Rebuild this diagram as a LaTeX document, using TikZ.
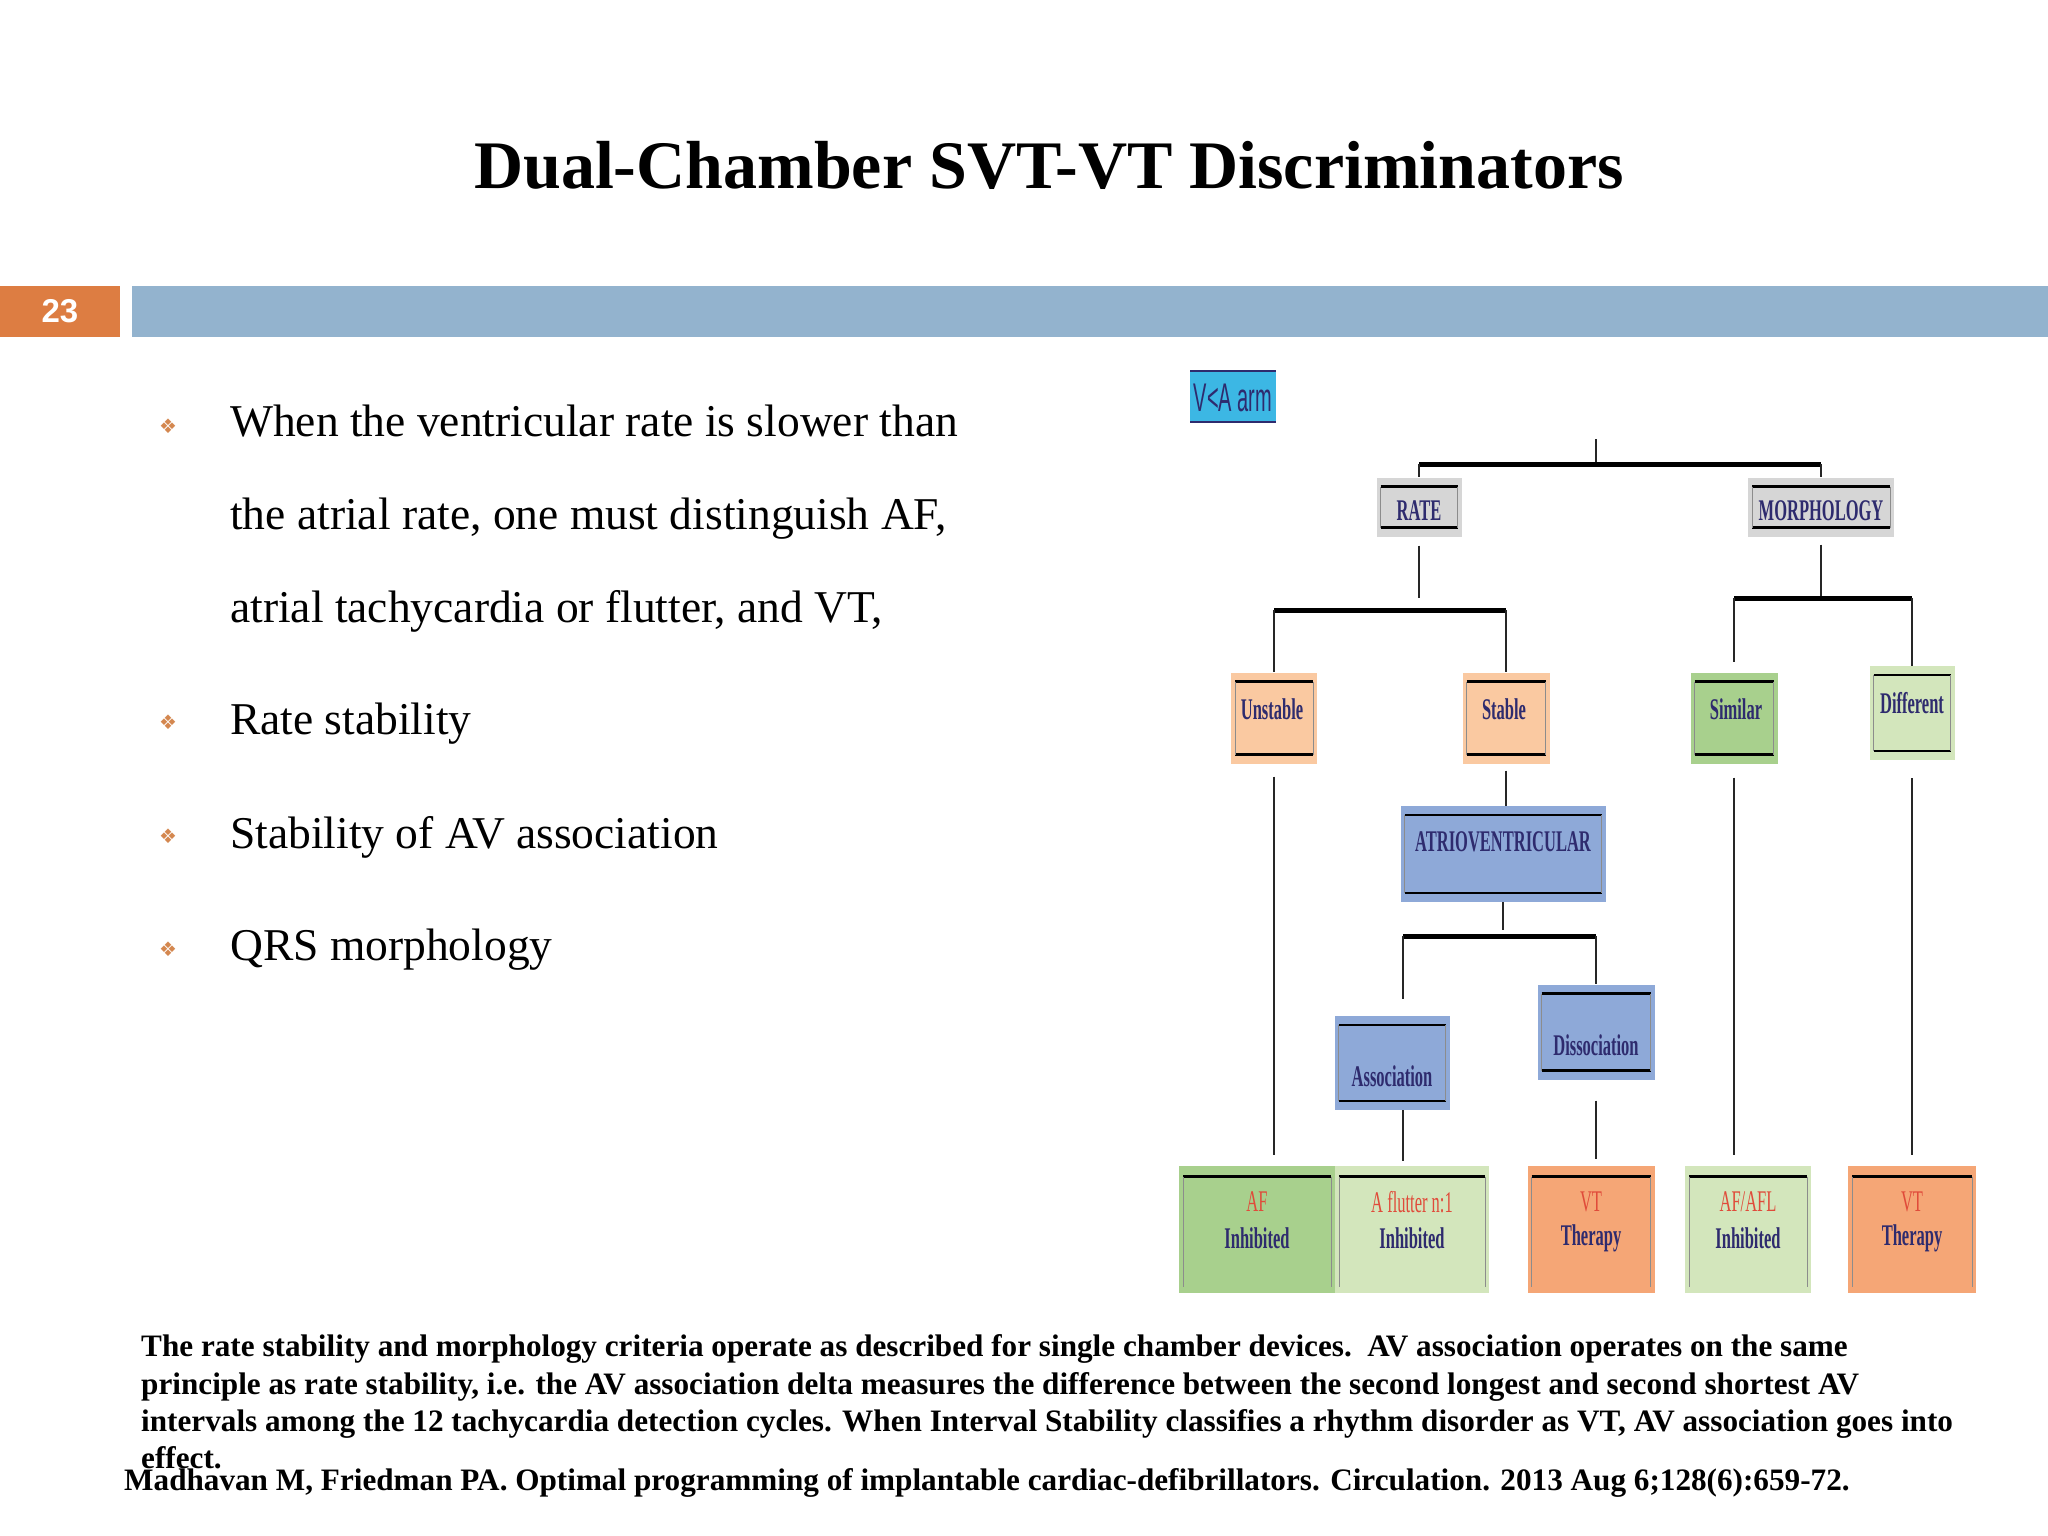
\documentclass[tikz,border=0pt]{standalone}
\usepackage{fontspec}
\setmainfont{Liberation Serif}
\newfontfamily\sansf{Liberation Sans}
\newfontfamily\dejavu{DejaVu Sans}
\newfontfamily\condf[FakeStretch=0.55]{Liberation Serif}
\newfontfamily\condsans[FakeStretch=0.5]{Liberation Sans}
\definecolor{hdrorange}{HTML}{DD7D42}
\definecolor{hdrblue}{HTML}{93B3CE}
\definecolor{bulorange}{HTML}{D4874F}
\definecolor{navyt}{HTML}{2E2B6E}
\definecolor{redt}{HTML}{E04B3A}
\definecolor{gbox}{HTML}{D6D6D6}
\definecolor{peach}{HTML}{FAC9A1}
\definecolor{mgreen}{HTML}{A8D08D}
\definecolor{lgreen}{HTML}{D3E6BC}
\definecolor{obox}{HTML}{F5A676}
\definecolor{bbox}{HTML}{8EA9D8}
\definecolor{cbox}{HTML}{3CB7E4}
\tikzset{
  box/.style={inner sep=0pt, draw=none},
  twolines/.style={path picture={
    \draw[black, line width=2.5pt] ([xshift=4pt,yshift=-9pt]path picture bounding box.north west) -- ([xshift=-4pt,yshift=-9pt]path picture bounding box.north east);
    \draw[black, line width=2.5pt] ([xshift=4pt,yshift=9pt]path picture bounding box.south west) -- ([xshift=-4pt,yshift=9pt]path picture bounding box.south east);
    \draw[black!45, line width=1pt] ([xshift=4pt,yshift=-9pt]path picture bounding box.north west) -- ([xshift=4pt,yshift=9pt]path picture bounding box.south west);
    \draw[black!45, line width=1pt] ([xshift=-4pt,yshift=-9pt]path picture bounding box.north east) -- ([xshift=-4pt,yshift=9pt]path picture bounding box.south east);
  }},
  oneline/.style={path picture={
    \draw[black, line width=2.5pt] ([xshift=4pt,yshift=-11pt]path picture bounding box.north west) -- ([xshift=-4pt,yshift=-11pt]path picture bounding box.north east);
    \draw[black!45, line width=1pt] ([xshift=4pt,yshift=-11pt]path picture bounding box.north west) -- ([xshift=4pt,yshift=6pt]path picture bounding box.south west);
    \draw[black!45, line width=1pt] ([xshift=-4pt,yshift=-11pt]path picture bounding box.north east) -- ([xshift=-4pt,yshift=6pt]path picture bounding box.south east);
  }},
  lbl/.style={inner sep=0pt, text=navyt, font=\condf\bfseries\fontsize{30}{34}\selectfont},
  rlbl/.style={inner sep=0pt, text=redt, font=\condf\fontsize{30}{34}\selectfont},
  stub/.style={draw=black!85, line width=2.5pt},
  bar/.style={draw=black, line width=5pt},
  bullet/.style={inner sep=0pt, text=bulorange, font=\dejavu\fontsize{20}{22}\selectfont},
  btext/.style={inner sep=0pt, anchor=base west, font=\fontsize{45.5}{50}\selectfont},
  ftext/.style={inner sep=0pt, anchor=base west, font=\bfseries\fontsize{31.2}{34}\selectfont},
}
\begin{document}
\begin{tikzpicture}[x=1pt,y=-1pt]
\useasboundingbox (0,0) rectangle (2048,1536);
\fill[white] (0,0) rectangle (2048,1536);

% header
\node[inner sep=0pt, anchor=base, font=\bfseries\fontsize{68}{72}\selectfont] (title) at (1049,188) {Dual-Chamber SVT-VT Discriminators};
\fill[hdrorange] (0,286) rectangle (120,337);
\fill[hdrblue] (132,286) rectangle (2048,337);
\node[inner sep=0pt, text=white, font=\sansf\bfseries\fontsize{33}{36}\selectfont] (num) at (60,311) {23};

% bullets
\node[bullet] (b1) at (168,426) {❖};
\node[bullet] (b2) at (168,722) {❖};
\node[bullet] (b3) at (168,836) {❖};
\node[bullet] (b4) at (168,949) {❖};
\node[btext] (t1a) at (230,436) {When the ventricular rate is slower than};
\node[btext] (t1b) at (230,529) {the atrial rate, one must distinguish AF,};
\node[btext] (t1c) at (230,622) {atrial tachycardia or flutter, and VT,};
\node[btext] (t2) at (230,734) {Rate stability};
\node[btext] (t3) at (230,848) {Stability of AV association};
\node[btext] (t4) at (230,960) {QRS morphology};

% boxes
\node[box, fill=cbox, minimum width=86pt, minimum height=52pt,
  path picture={\draw[navyt, line width=3pt] (path picture bounding box.north west) -- (path picture bounding box.north east);
  \draw[navyt, line width=3pt] (path picture bounding box.south west) -- (path picture bounding box.south east);}] (varm) at (1233,396) {};
\node[inner sep=0pt, text=navyt, font=\condsans\fontsize{40}{44}\selectfont] (varmT) at (1233,398) {V<A arm};

\node[box, fill=gbox, twolines, minimum width=85pt, minimum height=59pt] (rate) at (1419,507) {};
\node[lbl] (rateT) at (1419,511) {RATE};
\node[box, fill=gbox, twolines, minimum width=146pt, minimum height=59pt] (morph) at (1821,507) {};
\node[lbl] (morphT) at (1821,511) {MORPHOLOGY};

\node[box, fill=peach, twolines, minimum width=86pt, minimum height=91pt] (unstable) at (1274,718) {};
\node[lbl] (unstableT) at (1272,709) {Unstable};
\node[box, fill=peach, twolines, minimum width=87pt, minimum height=91pt] (stable) at (1506,718) {};
\node[lbl] (stableT) at (1504,709) {Stable};
\node[box, fill=mgreen, twolines, minimum width=87pt, minimum height=91pt] (similar) at (1734,718) {};
\node[lbl] (similarT) at (1736,709) {Similar};
\node[box, fill=lgreen, twolines, minimum width=85pt, minimum height=94pt] (different) at (1912,713) {};
\node[lbl] (differentT) at (1912,703) {Different};

\node[box, fill=bbox, twolines, minimum width=205pt, minimum height=96pt] (atrio) at (1503,854) {};
\node[lbl] (atrioT) at (1503,842) {ATRIOVENTRICULAR};
\node[box, fill=bbox, twolines, minimum width=115pt, minimum height=94pt] (assoc) at (1392,1063) {};
\node[lbl] (assocT) at (1392,1076) {Association};
\node[box, fill=bbox, twolines, minimum width=117pt, minimum height=95pt] (dissoc) at (1596,1032) {};
\node[lbl] (dissocT) at (1596,1045) {Dissociation};

\node[box, fill=mgreen, oneline, minimum width=156pt, minimum height=127pt] (af) at (1257,1229) {};
\node[rlbl] (afT1) at (1257,1202) {AF};
\node[lbl] (afT2) at (1257,1238) {Inhibited};
\node[box, fill=lgreen, oneline, minimum width=154pt, minimum height=127pt] (aflut) at (1412,1229) {};
\node[rlbl] (aflutT1) at (1412,1202) {A flutter n:1};
\node[lbl] (aflutT2) at (1412,1238) {Inhibited};
\node[box, fill=obox, oneline, minimum width=127pt, minimum height=127pt] (vt1) at (1591,1229) {};
\node[rlbl] (vt1T1) at (1591,1202) {VT};
\node[lbl] (vt1T2) at (1591,1238) {Therapy};
\node[box, fill=lgreen, oneline, minimum width=126pt, minimum height=127pt] (afafl) at (1748,1229) {};
\node[rlbl] (afaflT1) at (1748,1202) {AF/AFL};
\node[lbl] (afaflT2) at (1748,1238) {Inhibited};
\node[box, fill=obox, oneline, minimum width=128pt, minimum height=127pt] (vt2) at (1912,1229) {};
\node[rlbl] (vt2T1) at (1912,1202) {VT};
\node[lbl] (vt2T2) at (1912,1238) {Therapy};

% connectors
\coordinate (topc) at (1596,439);
\coordinate (j0) at (1596,464);
\draw[stub] (topc) -- (j0);
\draw[bar] (rate.north |- j0) -- (morph.north |- j0);
\draw[stub] (rate.north |- j0) -- (rate.north);
\draw[stub] (morph.north |- j0) -- (morph.north);

\coordinate (j1) at (1419,610);
\draw[stub, shorten <=9pt, shorten >=12pt] (rate.south) -- (rate.south |- j1);
\draw[bar] (unstable.north |- j1) -- (stable.north |- j1);
\draw[stub] (unstable.north |- j1) -- (unstable.north);
\draw[stub] (stable.north |- j1) -- (stable.north);

\coordinate (j2) at (1821,598);
\draw[stub, shorten <=8pt] (morph.south) -- (morph.south |- j2);
\draw[bar] (similar.north |- j2) -- (different.north |- j2);
\draw[stub, shorten >=10pt] (similar.north |- j2) -- (similar.north);
\draw[stub] (different.north |- j2) -- (different.north);

\draw[stub, shorten <=7pt] (stable.south) -- (stable.south |- atrio.north);

\coordinate (j3) at (1503,936);
\coordinate (assocA) at ([xshift=11pt]assoc.north);
\coordinate (assocB) at ([xshift=11pt]assoc.south);
\draw[stub, shorten >=6pt] (atrio.south) -- (j3);
\draw[bar] (assocA |- j3) -- (dissoc.north |- j3);
\draw[stub, shorten >=17pt] (assocA |- j3) -- (assocA);
\draw[stub] (dissoc.north |- j3) -- (dissoc.north);

\draw[stub, shorten <=13pt, shorten >=10pt] (unstable.south) -- (unstable.south |- af.north);
\draw[stub, shorten >=4pt] (assocB) -- (assocB |- aflut.north);
\draw[stub, shorten <=21pt, shorten >=6pt] (dissoc.south) -- (dissoc.south |- vt1.north);
\draw[stub, shorten <=14pt, shorten >=10pt] (similar.south) -- (similar.south |- afafl.north);
\draw[stub, shorten <=18pt, shorten >=10pt] (different.south) -- (different.south |- vt2.north);

% footer text
\node[ftext] (f1) at (141,1356) {The rate stability and morphology criteria operate as described for single chamber devices.\ \ AV association operates on the same};
\node[ftext] (f2) at (141,1394) {principle as rate stability, i.e. the AV association delta measures the difference between the second longest and second shortest AV};
\node[ftext] (f3) at (141,1431) {intervals among the 12 tachycardia detection cycles. When Interval Stability classifies a rhythm disorder as VT, AV association goes into};
\node[ftext] (f4) at (141,1468) {effect.};
\node[ftext] (f5) at (124,1490) {Madhavan M, Friedman PA. Optimal programming of implantable cardiac-defibrillators. Circulation. 2013 Aug 6;128(6):659-72.};
\end{tikzpicture}
\end{document}
